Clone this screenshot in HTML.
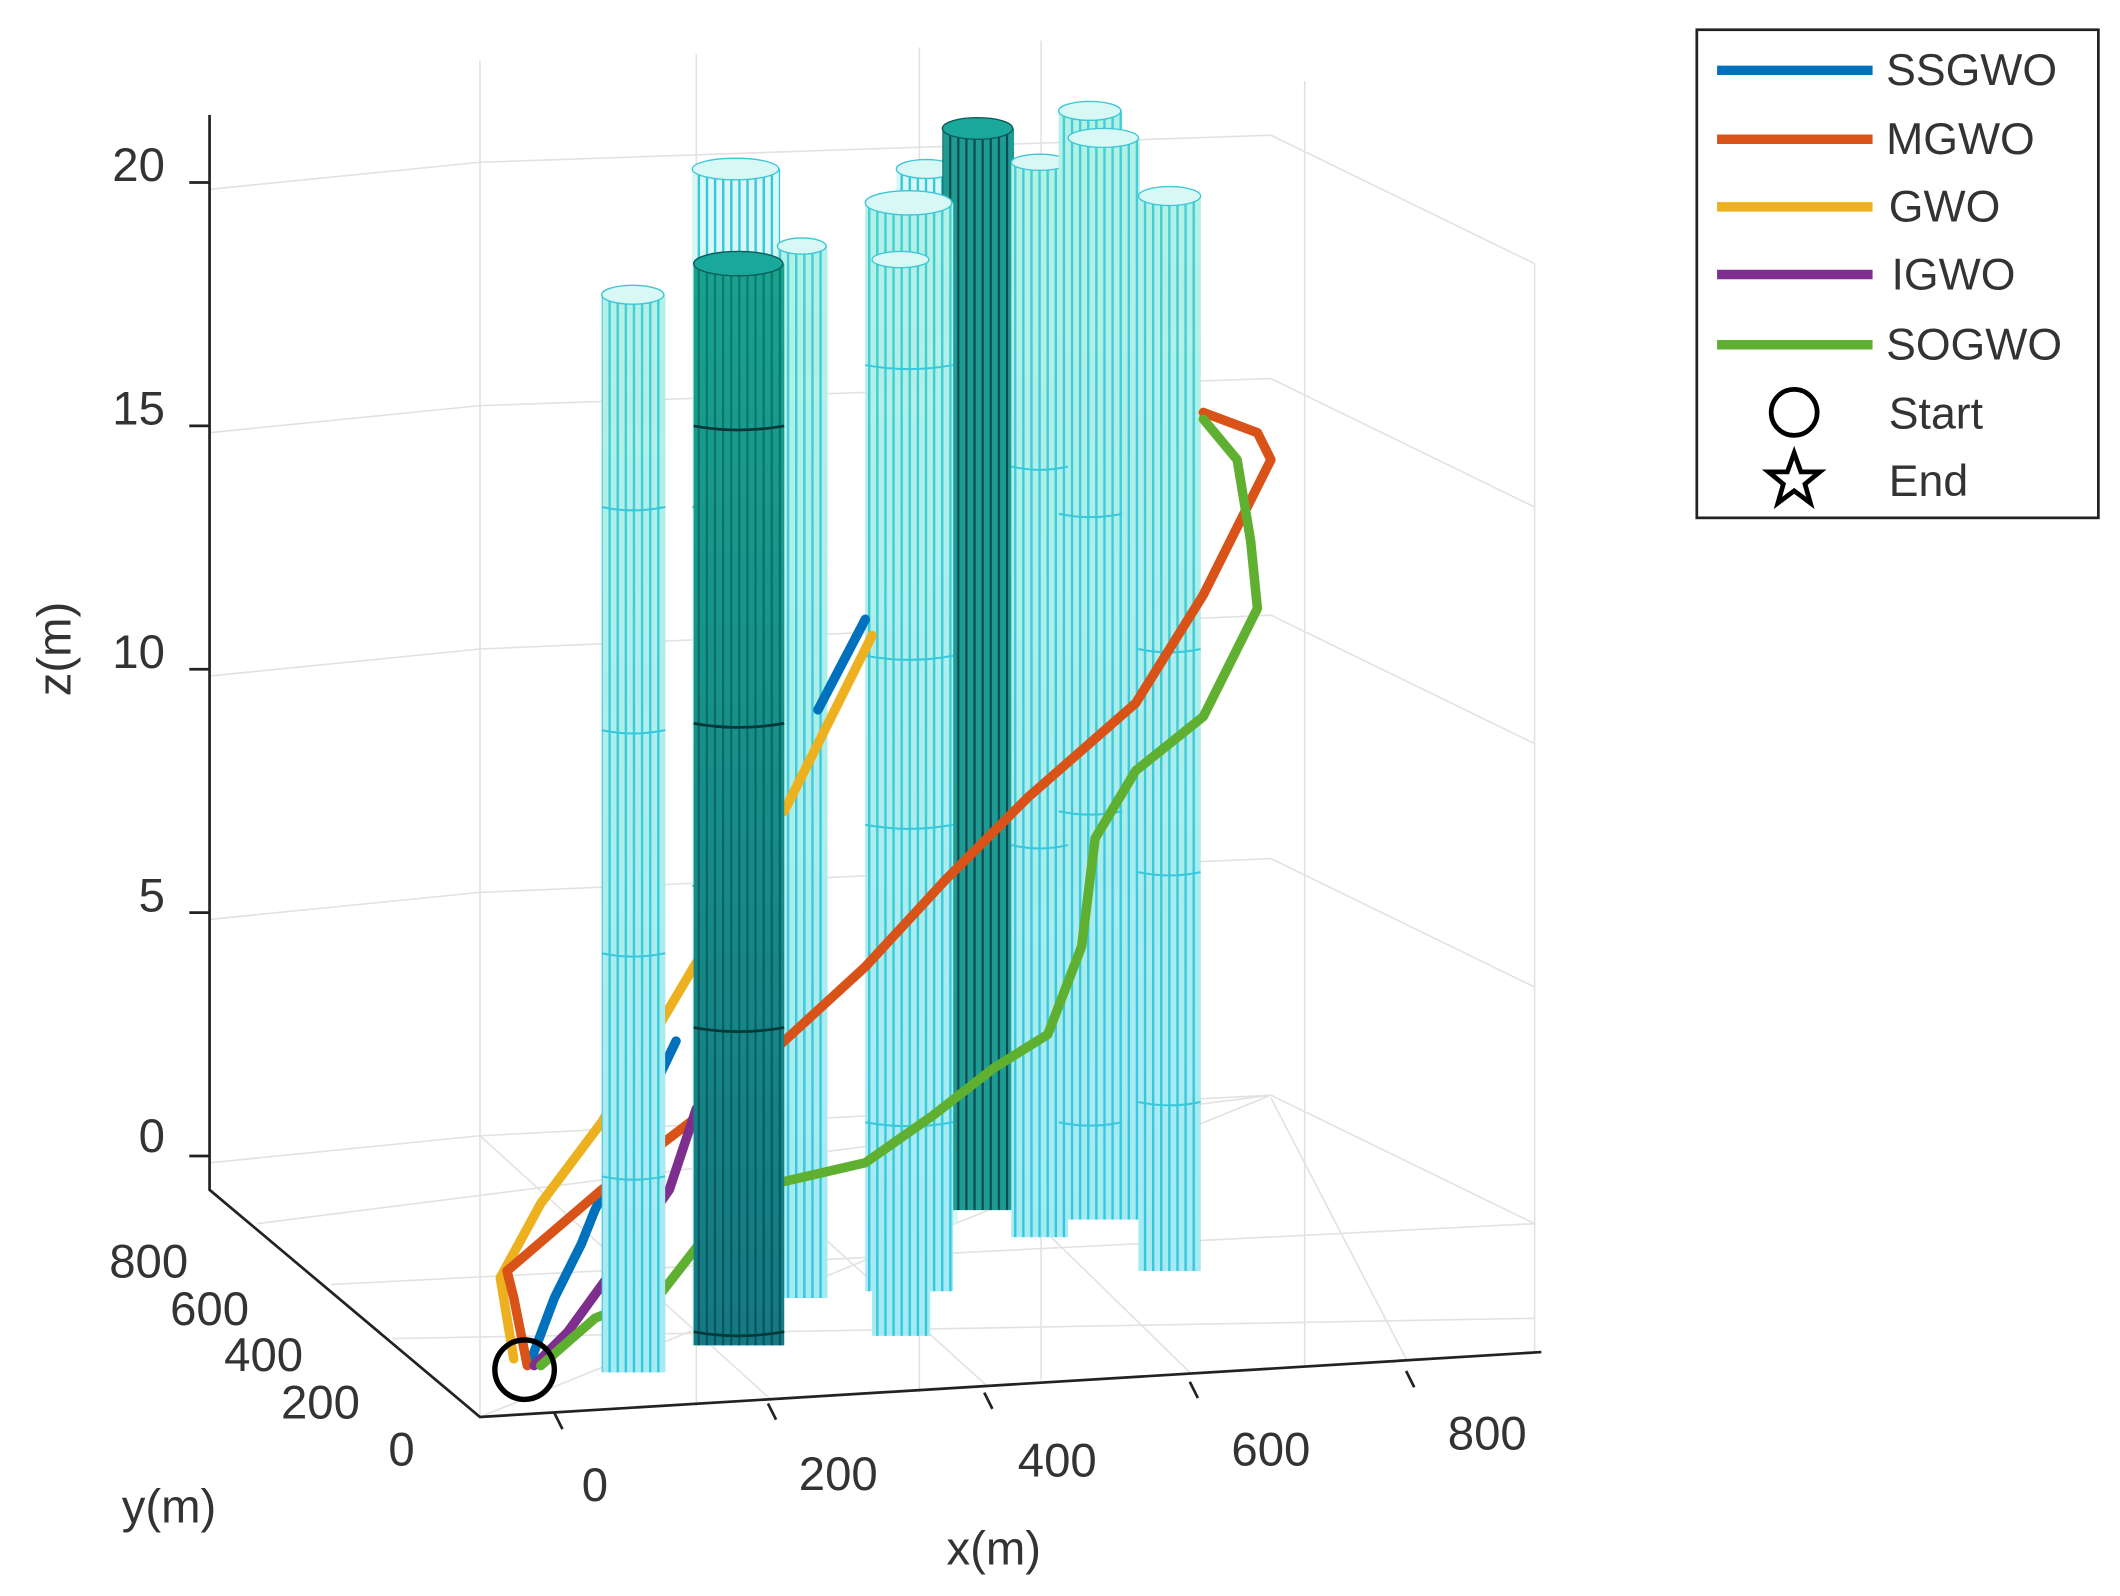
<!DOCTYPE html>
<html><head><meta charset="utf-8"><style>html,body{margin:0;padding:0;background:#fff}svg{display:block}</style></head><body>
<svg width="2120" height="1596" viewBox="0 0 1568 1180.4" preserveAspectRatio="none" xmlns="http://www.w3.org/2000/svg" font-family="Liberation Sans, sans-serif">
<defs>
<pattern id="lt" width="6" height="10" patternUnits="userSpaceOnUse"><rect width="6" height="10" fill="#d8f8f6"/><rect width="1.8" height="10" fill="#38c8dc"/></pattern>
<pattern id="dk" width="6" height="10" patternUnits="userSpaceOnUse"><rect width="6" height="10" fill="#1e9c94"/><rect width="1.6" height="10" fill="#0a4a50"/></pattern>
<linearGradient id="fl" x1="0" y1="0" x2="0" y2="1"><stop offset="0" stop-color="#5ee0c0" stop-opacity=".3"/><stop offset="1" stop-color="#30c8ea" stop-opacity=".3"/></linearGradient>
<linearGradient id="fd" x1="0" y1="0" x2="0" y2="1"><stop offset="0" stop-color="#11a888" stop-opacity=".5"/><stop offset="1" stop-color="#0a5870" stop-opacity=".5"/></linearGradient>
</defs>
<g stroke="#e2e2e2" stroke-width="1.2" fill="none">
<path d="M355,45 V1048 M515,40 V1040 M680,35 V1030 M770,30 V1020 M965,60 V1010 M1135,195 V1000"/>
<path d="M155,140 L355,120 L940,100 L1135,195 M155,320 L355,300 L940,280 L1135,375 M155,500 L355,480 L940,455 L1135,550 M155,680 L355,660 L940,635 L1135,730 M155,860 L355,840 L940,810 L1135,905"/>
<path d="M190,905 L940,810 M245,950 L1135,905 M290,990 L1135,975 M355,1048 L940,810 M570,1035 L355,840 M730,1025 L515,830 M880,1015 L680,820 M1040,1005 L940,812"/>
</g>
<g stroke="#222" stroke-width="2" fill="none">
<path d="M155,85 V880 L355,1048 L1140,1000"/>
<path d="M140,135 h15 M140,315 h15 M140,495 h15 M140,675 h15 M140,855 h15"/>
<path d="M410,1045 l6,12 M568,1038 l6,12 M728,1030 l6,12 M880,1022 l6,12 M1040,1014 l6,12"/>
</g>
<g>
<g><rect x="512" y="125" width="65" height="870" fill="url(#lt)"/><ellipse cx="544" cy="125" rx="32" ry="8" fill="#d8f8f6" stroke="#3cc6d6"/></g>
<g><rect x="663" y="125" width="45" height="780" fill="url(#lt)"/><ellipse cx="685" cy="125" rx="22" ry="7" fill="#d8f8f6" stroke="#3cc6d6"/></g>
<g><rect x="697" y="95" width="53" height="800" fill="url(#dk)"/><ellipse cx="723" cy="95" rx="26" ry="8" fill="#1aa89a" stroke="#0a5a5a"/></g>
<g><rect x="748" y="120" width="42" height="795" fill="url(#lt)"/><rect x="748" y="120" width="42" height="795" fill="url(#fl)"/><ellipse cx="769" cy="120" rx="21" ry="6" fill="#d8f8f6" stroke="#3cc6d6"/></g>
<g><rect x="783" y="82" width="47" height="818" fill="url(#lt)"/><rect x="783" y="82" width="47" height="818" fill="url(#fl)"/><ellipse cx="806" cy="82" rx="23" ry="7" fill="#d8f8f6" stroke="#3cc6d6"/></g>
<g><rect x="790" y="102" width="53" height="800" fill="url(#lt)"/><rect x="790" y="102" width="53" height="800" fill="url(#fl)"/><ellipse cx="816" cy="102" rx="26" ry="7" fill="#d8f8f6" stroke="#3cc6d6"/></g>
<g><rect x="842" y="145" width="46" height="795" fill="url(#lt)"/><rect x="842" y="145" width="46" height="795" fill="url(#fl)"/><ellipse cx="865" cy="145" rx="23" ry="7" fill="#d8f8f6" stroke="#3cc6d6"/></g>
<g><rect x="575" y="182" width="37" height="778" fill="url(#lt)"/><rect x="575" y="182" width="37" height="778" fill="url(#fl)"/><ellipse cx="593" cy="182" rx="18" ry="6" fill="#d8f8f6" stroke="#3cc6d6"/></g>
<g><rect x="640" y="150" width="65" height="805" fill="url(#lt)"/><rect x="640" y="150" width="65" height="805" fill="url(#fl)"/><ellipse cx="672" cy="150" rx="32" ry="9" fill="#d8f8f6" stroke="#3cc6d6"/></g>
<g><rect x="645" y="192" width="43" height="796" fill="url(#lt)"/><rect x="645" y="192" width="43" height="796" fill="url(#fl)"/><ellipse cx="666" cy="192" rx="21" ry="6" fill="#d8f8f6" stroke="#3cc6d6"/></g>
<path d="M512,375 q32,6 65,0 M512,655 q32,6 65,0 M640,270 q32,6 65,0 M640,485 q32,6 65,0 M640,610 q32,6 65,0 M640,830 q32,6 65,0 M748,345 q21,5 42,0 M748,625 q21,5 42,0 M783,380 q23,5 47,0 M783,600 q23,5 47,0 M783,830 q23,5 47,0 M842,480 q23,5 46,0 M842,645 q23,5 46,0 M842,815 q23,5 46,0" stroke="#38c8dc" stroke-width="1.5" fill="none"/>
</g>
<g fill="none" stroke-width="7" stroke-linejoin="round" stroke-linecap="round">
<polyline stroke="#edb120" points="380,1005 370,945 400,890 445,830 515,712"/>
<polyline stroke="#edb120" points="580,600 645,470"/>
<polyline stroke="#0072bd" points="392,1008 410,960 430,920 440,895 500,770"/>
<polyline stroke="#0072bd" points="605,525 640,458"/>
<polyline stroke="#d95319" points="390,1010 380,960 375,940 445,880 530,815 580,770 640,715 700,650 760,590 840,520 890,440 940,340 930,320 890,305"/>
<polyline stroke="#7e2f8e" points="395,1010 420,985 460,930 495,880 515,820"/>
<polyline stroke="#5fb030" points="400,1010 440,975 490,955 525,910 575,875 640,860 690,825 735,790 775,765 800,700 810,620 840,570 890,530 930,450 925,400 915,340 890,310"/>
</g>
<g><rect x="445" y="218" width="47" height="797" fill="url(#lt)"/><rect x="445" y="218" width="47" height="797" fill="url(#fl)"/><ellipse cx="468" cy="218" rx="23" ry="7" fill="#d8f8f6" stroke="#3cc6d6"/>
<path d="M445,375 q23,5 47,0 M445,540 q23,5 47,0 M445,705 q23,5 47,0 M445,870 q23,5 47,0" stroke="#38c8dc" stroke-width="1.5" fill="none"/></g>
<g><rect x="513" y="195" width="67" height="800" fill="url(#dk)"/><rect x="513" y="195" width="67" height="800" fill="url(#fd)"/><ellipse cx="546" cy="195" rx="33" ry="9" fill="#1aa89a" stroke="#0a5a5a"/>
<path d="M513,315 q33,6 67,0 M513,535 q33,6 67,0 M513,760 q33,6 67,0 M513,985 q33,6 67,0" stroke="#053838" stroke-width="2" fill="none"/></g>
<circle cx="388" cy="1013" r="22" fill="none" stroke="#000" stroke-width="4"/>
<g font-size="35" fill="#333">
<text x="122" y="134" text-anchor="end">20</text><text x="122" y="314" text-anchor="end">15</text><text x="122" y="494" text-anchor="end">10</text><text x="122" y="674" text-anchor="end">5</text><text x="122" y="852" text-anchor="end">0</text>
<text x="110" y="945" text-anchor="middle">800</text><text x="155" y="980" text-anchor="middle">600</text><text x="195" y="1014" text-anchor="middle">400</text><text x="237" y="1049" text-anchor="middle">200</text><text x="297" y="1084" text-anchor="middle">0</text>
<text x="440" y="1110" text-anchor="middle">0</text><text x="620" y="1102" text-anchor="middle">200</text><text x="782" y="1092" text-anchor="middle">400</text><text x="940" y="1084" text-anchor="middle">600</text><text x="1100" y="1072" text-anchor="middle">800</text>
<text x="125" y="1126" text-anchor="middle">y(m)</text><text x="735" y="1157" text-anchor="middle">x(m)</text>
<text transform="translate(52,480) rotate(-90)" text-anchor="middle">z(m)</text>
</g>
<rect x="1255" y="22" width="297" height="361" fill="#fff" stroke="#222" stroke-width="2"/>
<g stroke-width="7">
<line x1="1270" y1="52" x2="1385" y2="52" stroke="#0072bd"/><line x1="1270" y1="103" x2="1385" y2="103" stroke="#d95319"/><line x1="1270" y1="153" x2="1385" y2="153" stroke="#edb120"/><line x1="1270" y1="203" x2="1385" y2="203" stroke="#7e2f8e"/><line x1="1270" y1="255" x2="1385" y2="255" stroke="#5fb030"/>
</g>
<circle cx="1327" cy="305" r="17" fill="none" stroke="#000" stroke-width="3.5"/>
<polygon points="1327,335 1332,349 1346,349 1335,358 1339,372 1327,363 1315,372 1319,358 1308,349 1322,349" fill="#fff" stroke="#000" stroke-width="3.5"/>
<g font-size="33" fill="#333">
<text x="1395" y="63">SSGWO</text><text x="1395" y="114">MGWO</text><text x="1397" y="164">GWO</text><text x="1399" y="214">IGWO</text><text x="1395" y="266">SOGWO</text><text x="1397" y="317">Start</text><text x="1397" y="367">End</text>
</g>
</svg>
</body></html>
